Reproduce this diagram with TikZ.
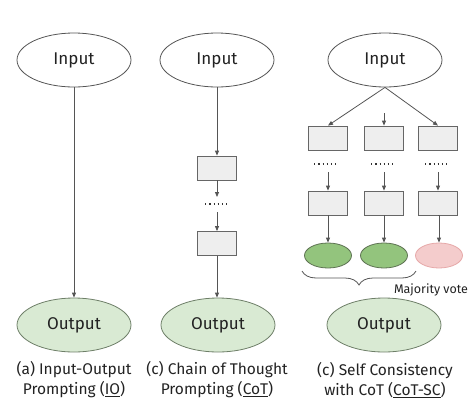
\documentclass[tikz,border=0pt]{standalone}
\usepackage{fontspec}
\setmainfont{Fira Sans}
\usetikzlibrary{shapes.geometric,arrows.meta,decorations.pathreplacing}
\definecolor{lgreen}{HTML}{D9EAD3}
\definecolor{lgreenb}{HTML}{6E7F68}
\definecolor{dgreen}{HTML}{93C47D}
\definecolor{dgreenb}{HTML}{5D7252}
\definecolor{pinkf}{HTML}{F4CCCC}
\definecolor{pinkb}{HTML}{E6A8A8}
\definecolor{boxf}{HTML}{EEEEEE}
\definecolor{boxb}{HTML}{666666}
\definecolor{linec}{HTML}{555555}
\definecolor{txt}{HTML}{222222}
\begin{document}
\begin{tikzpicture}[x=1pt,y=-1pt,
  big/.style={ellipse, draw=linec, line width=0.8pt, minimum width=114pt, minimum height=54pt, inner sep=0pt, font=\fontsize{17}{20}\selectfont, text=txt},
  inp/.style={big, fill=white},
  outp/.style={big, fill=lgreen, draw=lgreenb},
  stepbox/.style={rectangle, draw=boxb, fill=boxf, line width=0.8pt, minimum width=39pt, minimum height=24pt, inner sep=0pt},
  small/.style={ellipse, line width=0.8pt, minimum width=47pt, minimum height=25pt, inner sep=0pt},
  good/.style={small, fill=dgreen, draw=dgreenb},
  bad/.style={small, fill=pinkf, draw=pinkb},
  dotrow/.style={minimum width=25pt, minimum height=3pt, inner sep=0pt,
    path picture={\draw[black!80, line width=1.3pt, dash pattern=on 1.3pt off 2.9pt] ([xshift=0.6pt]path picture bounding box.west) -- (path picture bounding box.east);}},
  arr/.style={draw=linec, line width=0.8pt, -{Triangle[length=5pt,width=4pt]}},
  captxt/.style={align=center, font=\fontsize{15.5}{20}\selectfont, text=txt}
]
\useasboundingbox (0,0) rectangle (474,418);
% column 1
\node[inp] (in1) at (74,60) {Input};
\node[outp] (out1) at (74,325) {Output};
\draw[arr] (in1) -- (out1);
\node[captxt] (c1) at (74,380) {(a) Input-Output\\Prompting (\underline{IO})};
% column 2
\node[inp] (in2) at (217,60) {Input};
\node[stepbox] (b21) at (217,168) {};
\coordinate (a2e) at (217,197);
\node[dotrow] (d2) at (217,204) {};
\coordinate (a2s) at (217,212);
\node[stepbox] (b22) at (217,243.5) {};
\node[outp] (out2) at (218,325) {Output};
\draw[arr] (in2) -- (b21);
\draw[arr] (b21) -- (a2e);
\draw[arr] (a2s) -- (b22);
\draw[arr] (b22.south) -- (b22.south |- out2.north);
\node[captxt] (c2) at (217,380) {(c) Chain of Thought\\Prompting (\underline{CoT})};
% column 3
\node[inp] (in3) at (385,60) {Input};
\node[stepbox] (b31) at (328,138) {};
\node[stepbox] (b32) at (384,138) {};
\node[stepbox] (b33) at (438,138) {};
\coordinate (m3) at (384,113);
\draw[arr] (in3.south) -- (b31.north);
\draw[arr] (m3) -- (b32.north);
\draw[arr] (in3.south) -- (b33.north);
\node[dotrow] (d31) at (326,164) {};
\node[dotrow] (d32) at (383,164) {};
\node[dotrow] (d33) at (437,164) {};
\coordinate (s31) at (328,172);
\coordinate (s32) at (384,172);
\coordinate (s33) at (438,172);
\node[stepbox] (b34) at (328,203) {};
\node[stepbox] (b35) at (384,203) {};
\node[stepbox] (b36) at (438,203) {};
\draw[arr] (s31) -- (b34.north);
\draw[arr] (s32) -- (b35.north);
\draw[arr] (s33) -- (b36.north);
\node[good] (e1) at (328,255.5) {};
\node[good] (e2) at (384,255.5) {};
\node[bad] (e3) at (439,255.5) {};
\draw[arr] (b34) -- (e1);
\draw[arr] (b35) -- (e2);
\draw[arr] (b36.south) -- (b36.south -| e3.north) -- (e3.north);
\coordinate (brr) at (416,271);
\coordinate (brl) at (302,271);
\draw[linec, line width=0.8pt, decorate, decoration={brace, amplitude=14pt}] (brr) -- (brl);
\node[font=\fontsize{12.5}{14}\selectfont, text=txt] (mv) at (431,289.5) {Majority vote};
\node[outp] (out3) at (384,325) {Output};
\node[captxt] (c3) at (385,380) {(c) Self Consistency\\with CoT (\underline{CoT-SC})};
\end{tikzpicture}
\end{document}
